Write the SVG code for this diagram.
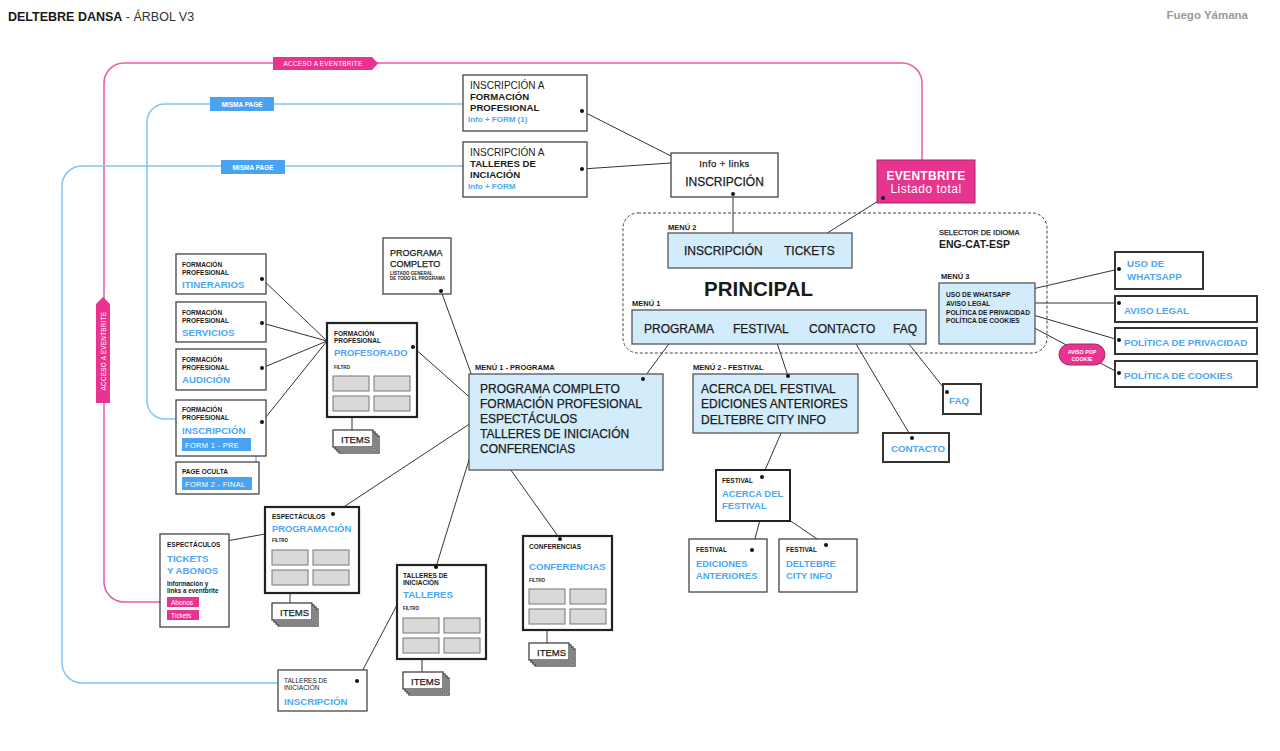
<svg xmlns="http://www.w3.org/2000/svg" xmlns:xlink="http://www.w3.org/1999/xlink" width="1280" height="751" viewBox="0 0 1280 751">
<style>
text{font-family:"Liberation Sans",Arial,sans-serif;fill:#1a1a1a}
.b{font-weight:bold}
.med{stroke:#1a1a1a;stroke-width:0.25}
.blue{fill:#4aa8f5;font-weight:bold}
.wt{fill:#fff}
.box{fill:#fff;stroke:#444;stroke-width:1.3}
.tk{fill:#fff;stroke:#222;stroke-width:2.2}
.lb{fill:#d3ecfb;stroke:#555;stroke-width:1.3}
.gr{fill:#d9d9d9;stroke:#777;stroke-width:1}
.ln{stroke:#333;stroke-width:1;fill:none}
.dot{fill:#111}
.bl{stroke:#82c3f7;stroke-width:1.5;fill:none}
.pk{stroke:#ec5aa6;stroke-width:1.5;fill:none}
.bfill{fill:#4aa3f0}
.pfill{fill:#e8348f}
.s65{font-size:6.5px}
.s5{font-size:4.5px}
.s12{font-size:12px}
.s10{font-size:9.7px}
.m3{font-size:6.6px;font-weight:bold}
</style>
<defs>
<g id="grid">
<rect class="gr" x="0" y="0" width="36" height="15"/>
<rect class="gr" x="41" y="0" width="36" height="15"/>
<rect class="gr" x="0" y="20" width="36" height="15"/>
<rect class="gr" x="41" y="20" width="36" height="15"/>
</g>
<g id="items">
<rect class="box" x="6" y="6" width="40" height="17"/>
<rect class="box" x="4" y="4" width="40" height="17"/>
<rect class="box" x="2" y="2" width="40" height="17"/>
<rect class="box" x="0" y="0" width="40" height="17"/>
<text x="8" y="12.5" style="font-size:9.5px" class="med">ITEMS</text>
</g>
</defs>

<!-- header -->
<text x="8" y="21" style="font-size:12.5px"><tspan class="b">DELTEBRE DANSA</tspan><tspan fill="#333"> - ÁRBOL V3</tspan></text>
<text x="1248" y="19" text-anchor="end" class="b" style="font-size:11.5px;fill:#9a9a9a">Fuego Yámana</text>

<!-- loops -->
<g id="loops">
<path class="pk" d="M160,602 H124 A20,20 0 0 1 104,582 V83 A20,20 0 0 1 124,63 H902 A20,20 0 0 1 922,83 V160"/>
<polygon class="pfill" points="273,57 372,57 378,63.5 372,70 273,70"/>
<text x="323" y="66" text-anchor="middle" class="wt" style="font-size:6.3px;letter-spacing:0.3px">ACCESO A EVENTBRITE</text>
<polygon class="pfill" points="96,304 103,297 110,304 110,403 96,403"/>
<text x="0" y="0" transform="translate(105.5,351) rotate(-90)" text-anchor="middle" class="wt" style="font-size:6.3px;letter-spacing:0.3px">ACCESO A EVENTBRITE</text>
<path class="bl" d="M278,683 H82 A20,20 0 0 1 62,663 V186 A20,20 0 0 1 82,166 H463"/>
<rect class="bfill" x="221" y="160" width="64" height="14"/>
<text x="253" y="169.5" text-anchor="middle" class="wt b s65">MISMA PAGE</text>
<path class="bl" d="M176,419 H165 A18,18 0 0 1 147,401 V122 A18,18 0 0 1 165,104 H463"/>
<rect class="bfill" x="210" y="97" width="64" height="14"/>
<text x="242" y="106.5" text-anchor="middle" class="wt b s65">MISMA PAGE</text>
<line class="bl" x1="256" y1="448" x2="256" y2="473"/>
</g>

<!-- connectors -->
<g id="connectors">
<line class="ln" x1="582" y1="111" x2="671" y2="156"/>
<line class="ln" x1="582" y1="169" x2="671" y2="163"/>
<line class="ln" x1="733" y1="194" x2="733" y2="242"/>
<line class="ln" x1="883" y1="198" x2="813" y2="242"/>
<line class="ln" x1="1015" y1="293" x2="1119" y2="269"/>
<line class="ln" x1="992" y1="303" x2="1119" y2="303"/>
<line class="ln" x1="1033" y1="315" x2="1119" y2="340"/>
<line class="ln" x1="1025" y1="323" x2="1119" y2="373"/>
<line class="ln" x1="905" y1="339" x2="947" y2="392"/>
<line class="ln" x1="853" y1="339" x2="912" y2="438"/>
<line class="ln" x1="776" y1="340" x2="788" y2="376"/>
<line class="ln" x1="782" y1="431" x2="762" y2="477"/>
<line class="ln" x1="761" y1="516" x2="752" y2="550"/>
<line class="ln" x1="776" y1="511" x2="826" y2="545"/>
<line class="ln" x1="671" y1="341" x2="643" y2="379"/>
<line class="ln" x1="441" y1="291" x2="476" y2="387"/>
<line class="ln" x1="413" y1="347" x2="475" y2="402"/>
<line class="ln" x1="474" y1="421" x2="333" y2="514"/>
<line class="ln" x1="477" y1="434" x2="436" y2="567"/>
<line class="ln" x1="503" y1="459" x2="560" y2="539"/>
<line class="ln" x1="262" y1="279" x2="327" y2="341"/>
<line class="ln" x1="262" y1="323" x2="327" y2="341"/>
<line class="ln" x1="262" y1="368" x2="327" y2="341"/>
<line class="ln" x1="262" y1="422" x2="327" y2="341"/>
<line class="ln" x1="221" y1="542" x2="265" y2="534"/>
<line class="ln" x1="357" y1="681" x2="397" y2="605"/>
<line class="ln" x1="352" y1="406" x2="352" y2="430"/>
<line class="ln" x1="290" y1="579" x2="290" y2="603"/>
<line class="ln" x1="422" y1="648" x2="422" y2="672"/>
<line class="ln" x1="547" y1="618" x2="547" y2="643"/>
</g>

<!-- principal -->
<g id="principal">
<rect x="623" y="213" width="424" height="140" rx="15" fill="none" stroke="#444" stroke-width="1" stroke-dasharray="3,2"/>
<text x="704" y="296" class="b" style="font-size:20.5px">PRINCIPAL</text>
<text x="939" y="235" style="font-size:7.4px" class="med">SELECTOR DE IDIOMA</text>
<text x="939" y="248" class="b" style="font-size:10.5px">ENG-CAT-ESP</text>
</g>

<g id="menu2">
<text x="668" y="230" class="b" style="font-size:7.5px">MENÚ 2</text>
<rect class="lb" x="668" y="233" width="184" height="35"/>
<text x="684" y="255" class="s12 med">INSCRIPCIÓN</text>
<text x="784" y="255" class="s12 med">TICKETS</text>
</g>

<g id="menu1">
<text x="632" y="306" class="b" style="font-size:7.5px">MENÚ 1</text>
<rect class="lb" x="632" y="310" width="294" height="34"/>
<text x="644" y="333" class="s12 med">PROGRAMA</text>
<text x="733" y="333" class="s12 med">FESTIVAL</text>
<text x="809" y="333" class="s12 med">CONTACTO</text>
<text x="893" y="333" class="s12 med">FAQ</text>
</g>

<g id="menu3">
<text x="941" y="279" class="b" style="font-size:7.5px">MENÚ 3</text>
<rect class="lb" x="939" y="283" width="96" height="61"/>
<text x="946" y="297" class="m3">USO DE WHATSAPP</text>
<text x="946" y="306" class="m3">AVISO LEGAL</text>
<text x="946" y="315" class="m3">POLÍTICA DE PRIVACIDAD</text>
<text x="946" y="323" class="m3">POLÍTICA DE COOKIES</text>
</g>

<g id="inscripcion-fp">
<rect class="box" x="463" y="75" width="124" height="56"/>
<text x="470" y="89" style="font-size:10px">INSCRIPCIÓN A</text>
<text x="470" y="100" class="b" style="font-size:9.6px">FORMACIÓN</text>
<text x="470" y="111" class="b" style="font-size:9.6px">PROFESIONAL</text>
<text x="468" y="122" class="blue" style="font-size:8px">Info + FORM (1)</text>
</g>

<g id="inscripcion-ti">
<rect class="box" x="463" y="142" width="124" height="55"/>
<text x="470" y="156" style="font-size:10px">INSCRIPCIÓN A</text>
<text x="470" y="167" class="b" style="font-size:9.6px">TALLERES DE</text>
<text x="470" y="178" class="b" style="font-size:9.6px">INCIACIÓN</text>
<text x="468" y="189" class="blue" style="font-size:8px">Info + FORM</text>
</g>

<g id="info-links">
<rect class="box" x="671" y="153" width="107" height="44"/>
<text x="724.5" y="166.5" text-anchor="middle" class="med" style="font-size:9.5px;letter-spacing:0.4px">Info + links</text>
<text x="724.5" y="186" text-anchor="middle" class="s12 med">INSCRIPCIÓN</text>
</g>

<g id="eventbrite">
<rect x="877" y="160" width="98" height="43" fill="#e8348f" stroke="#a8226a" stroke-width="1"/>
<text x="926" y="180" text-anchor="middle" class="wt b s12" style="letter-spacing:0.3px">EVENTBRITE</text>
<text x="926" y="192.5" text-anchor="middle" class="wt" style="font-size:12px;letter-spacing:0.5px">Listado total</text>
</g>

<g id="whatsapp">
<rect class="box" style="stroke-width:2;stroke:#333" x="1115" y="252" width="88" height="37"/>
<text x="1127" y="267" class="blue s10">USO DE</text>
<text x="1127" y="280" class="blue s10">WHATSAPP</text>
</g>
<g id="aviso-legal">
<rect class="box" style="stroke-width:2;stroke:#333" x="1115" y="296" width="142" height="26"/>
<text x="1124" y="313.5" class="blue s10">AVISO LEGAL</text>
</g>
<g id="privacidad">
<rect class="box" style="stroke-width:2;stroke:#333" x="1115" y="328" width="142" height="26"/>
<text x="1124" y="345.5" class="blue s10">POLÍTICA DE PRIVACIDAD</text>
</g>
<g id="cookies">
<rect class="box" style="stroke-width:2;stroke:#333" x="1115" y="361" width="142" height="26"/>
<text x="1124" y="378.5" class="blue s10">POLÍTICA DE COOKIES</text>
</g>
<g id="aviso-pop">
<rect x="1059" y="344" width="46" height="21" rx="10.5" fill="#e8348f" stroke="#a8226a" stroke-width="1"/>
<text x="1082" y="354" text-anchor="middle" class="wt b" style="font-size:5.3px">AVISO POP</text>
<text x="1082" y="361" text-anchor="middle" class="wt b" style="font-size:5.3px">COOKIE</text>
</g>

<g id="faq">
<rect class="box" style="stroke-width:2;stroke:#333" x="943" y="384" width="38" height="30"/>
<text x="949" y="404" class="blue s10">FAQ</text>
</g>
<g id="contacto">
<rect class="box" style="stroke-width:2;stroke:#333" x="883" y="433" width="66" height="29"/>
<text x="891" y="452" class="blue s10">CONTACTO</text>
</g>

<g id="menu2-festival">
<text x="693" y="370" class="b" style="font-size:7.5px">MENÚ 2 - FESTIVAL</text>
<rect class="lb" x="693" y="374" width="165" height="59"/>
<text x="701" y="393" class="s12 med">ACERCA DEL FESTIVAL</text>
<text x="701" y="408" class="s12 med">EDICIONES ANTERIORES</text>
<text x="701" y="424" class="s12 med">DELTEBRE CITY INFO</text>
</g>

<g id="festival-acerca">
<rect class="box" style="stroke-width:2;stroke:#222" x="716" y="470" width="74" height="51"/>
<text x="722" y="483" class="b s65">FESTIVAL</text>
<text x="722" y="497" class="blue" style="font-size:9.4px">ACERCA DEL</text>
<text x="722" y="509" class="blue" style="font-size:9.4px">FESTIVAL</text>
</g>
<g id="festival-ediciones">
<rect class="box" x="689" y="539" width="78" height="53"/>
<text x="696" y="552" class="b s65">FESTIVAL</text>
<text x="696" y="567" class="blue" style="font-size:9.4px">EDICIONES</text>
<text x="696" y="579" class="blue" style="font-size:9.4px">ANTERIORES</text>
</g>
<g id="festival-deltebre">
<rect class="box" x="779" y="539" width="78" height="53"/>
<text x="786" y="552" class="b s65">FESTIVAL</text>
<text x="786" y="567" class="blue" style="font-size:9.4px">DELTEBRE</text>
<text x="786" y="579" class="blue" style="font-size:9.4px">CITY INFO</text>
</g>

<g id="menu1-programa">
<text x="475" y="370" class="b" style="font-size:7.5px">MENÚ 1 - PROGRAMA</text>
<rect class="lb" x="469" y="374" width="194" height="96"/>
<text x="480" y="393" class="s12 med">PROGRAMA COMPLETO</text>
<text x="480" y="408" class="s12 med">FORMACIÓN PROFESIONAL</text>
<text x="480" y="423" class="s12 med">ESPECTÁCULOS</text>
<text x="480" y="438" class="s12 med">TALLERES DE INICIACIÓN</text>
<text x="480" y="453" class="s12 med">CONFERENCIAS</text>
</g>

<g id="programa-completo">
<rect class="box" x="383" y="238" width="68" height="56"/>
<text x="390" y="256" class="med" style="font-size:9px">PROGRAMA</text>
<text x="390" y="267" class="med" style="font-size:9px">COMPLETO</text>
<text x="390" y="275" class="b s5">LISTADO GENERAL</text>
<text x="390" y="280" class="b s5">DE TODO EL PROGRAMA</text>
</g>

<g id="fp-itinerarios">
<rect class="box" x="176" y="254" width="90" height="40"/>
<text x="182" y="267" class="b s65">FORMACIÓN</text>
<text x="182" y="275" class="b s65">PROFESIONAL</text>
<text x="182" y="288" class="blue s10">ITINERARIOS</text>
</g>
<g id="fp-servicios">
<rect class="box" x="176" y="302" width="90" height="40"/>
<text x="182" y="315" class="b s65">FORMACIÓN</text>
<text x="182" y="323" class="b s65">PROFESIONAL</text>
<text x="182" y="336" class="blue s10">SERVICIOS</text>
</g>
<g id="fp-audicion">
<rect class="box" x="176" y="349" width="90" height="41"/>
<text x="182" y="362" class="b s65">FORMACIÓN</text>
<text x="182" y="370" class="b s65">PROFESIONAL</text>
<text x="182" y="383" class="blue s10">AUDICIÓN</text>
</g>
<g id="fp-inscripcion">
<rect class="box" x="176" y="400" width="90" height="56"/>
<text x="182" y="412" class="b s65">FORMACIÓN</text>
<text x="182" y="420" class="b s65">PROFESIONAL</text>
<text x="182" y="434" class="blue s10">INSCRIPCIÓN</text>
<rect class="bfill" x="182" y="438" width="69" height="13"/>
<text x="185" y="447.5" class="wt" style="font-size:7.5px;letter-spacing:0.3px">FORM 1 - PRE</text>
</g>
<g id="page-oculta">
<rect class="box" x="176" y="462" width="83" height="32"/>
<text x="182" y="474" class="b s65">PAGE OCULTA</text>
<rect class="bfill" x="182" y="477" width="70" height="13"/>
<text x="185" y="486.5" class="wt" style="font-size:7.5px;letter-spacing:0.3px">FORM 2 - FINAL</text>
</g>

<g id="fp-profesorado">
<rect class="tk" x="327" y="323" width="90" height="94"/>
<text x="334" y="336" class="b s65">FORMACIÓN</text>
<text x="334" y="343" class="b s65">PROFESIONAL</text>
<text x="334" y="356" class="blue" style="font-size:9.4px">PROFESORADO</text>
<text x="334" y="369" class="b s5">FILTRO</text>
<use xlink:href="#grid" href="#grid" x="333" y="376"/>
</g>
<g id="items-profesorado"><use xlink:href="#items" href="#items" x="333" y="430"/></g>

<g id="esp-programacion">
<rect class="tk" x="265" y="507" width="94" height="86"/>
<text x="272" y="519" class="b s65">ESPECTÁCULOS</text>
<text x="272" y="532" class="blue" style="font-size:9.4px">PROGRAMACIÓN</text>
<text x="272" y="542" class="b s5">FILTRO</text>
<use xlink:href="#grid" href="#grid" x="272" y="550"/>
</g>
<g id="items-programacion"><use xlink:href="#items" href="#items" x="272" y="603"/></g>

<g id="esp-tickets">
<rect class="box" x="160" y="534" width="69" height="93"/>
<text x="167" y="547" class="b s65">ESPECTÁCULOS</text>
<text x="167" y="562" class="blue s10">TICKETS</text>
<text x="167" y="574" class="blue s10">Y ABONOS</text>
<text x="167" y="586" class="b" style="font-size:6.3px">Información y</text>
<text x="167" y="593" class="b" style="font-size:6.3px">links a eventbrite</text>
<rect class="pfill" x="167" y="597" width="32" height="10"/>
<text x="171" y="604.5" class="wt" style="font-size:6.5px">Abonos</text>
<rect class="pfill" x="167" y="610" width="32" height="10"/>
<text x="171" y="617.5" class="wt" style="font-size:6.5px">Tickets</text>
</g>

<g id="talleres">
<rect class="tk" x="397" y="565" width="89" height="94"/>
<text x="403" y="578" class="b s65">TALLERES DE</text>
<text x="403" y="585" class="b s65">INICIACIÓN</text>
<text x="403" y="598" class="blue" style="font-size:9.6px">TALLERES</text>
<text x="403" y="610" class="b s5">FILTRO</text>
<use xlink:href="#grid" href="#grid" x="403" y="618"/>
</g>
<g id="items-talleres"><use xlink:href="#items" href="#items" x="403" y="672"/></g>

<g id="talleres-inscripcion">
<rect class="box" x="278" y="670" width="89" height="41"/>
<text x="284" y="683" class="s65">TALLERES DE</text>
<text x="284" y="690" class="s65">INICIACIÓN</text>
<text x="284" y="705" class="blue s10">INSCRIPCIÓN</text>
</g>

<g id="conferencias">
<rect class="tk" x="523" y="536" width="89" height="94"/>
<text x="529" y="549" class="b s65">CONFERENCIAS</text>
<text x="529" y="570" class="blue" style="font-size:9.6px">CONFERENCIAS</text>
<text x="529" y="582" class="b s5">FILTRO</text>
<use xlink:href="#grid" href="#grid" x="529" y="589"/>
</g>
<g id="items-conferencias"><use xlink:href="#items" href="#items" x="529" y="643"/></g>

<!-- dots -->
<g id="dots">
<circle class="dot" cx="582" cy="111" r="2"/>
<circle class="dot" cx="582" cy="169" r="2"/>
<circle class="dot" cx="733" cy="194" r="2"/>
<circle class="dot" cx="883" cy="198" r="2"/>
<circle class="dot" cx="1119" cy="269" r="2"/>
<circle class="dot" cx="1119" cy="303" r="2"/>
<circle class="dot" cx="1119" cy="340" r="2"/>
<circle class="dot" cx="1119" cy="373" r="2"/>
<circle class="dot" cx="947" cy="392" r="2"/>
<circle class="dot" cx="912" cy="438" r="2"/>
<circle class="dot" cx="788" cy="376" r="2"/>
<circle class="dot" cx="762" cy="477" r="2"/>
<circle class="dot" cx="752" cy="550" r="2"/>
<circle class="dot" cx="826" cy="545" r="2"/>
<circle class="dot" cx="643" cy="379" r="2"/>
<circle class="dot" cx="441" cy="291" r="2"/>
<circle class="dot" cx="413" cy="347" r="2"/>
<circle class="dot" cx="333" cy="514" r="2"/>
<circle class="dot" cx="436" cy="567" r="2"/>
<circle class="dot" cx="560" cy="539" r="2"/>
<circle class="dot" cx="262" cy="279" r="2"/>
<circle class="dot" cx="262" cy="323" r="2"/>
<circle class="dot" cx="262" cy="368" r="2"/>
<circle class="dot" cx="262" cy="422" r="2"/>
<circle class="dot" cx="357" cy="681" r="2"/>
</g>
</svg>
